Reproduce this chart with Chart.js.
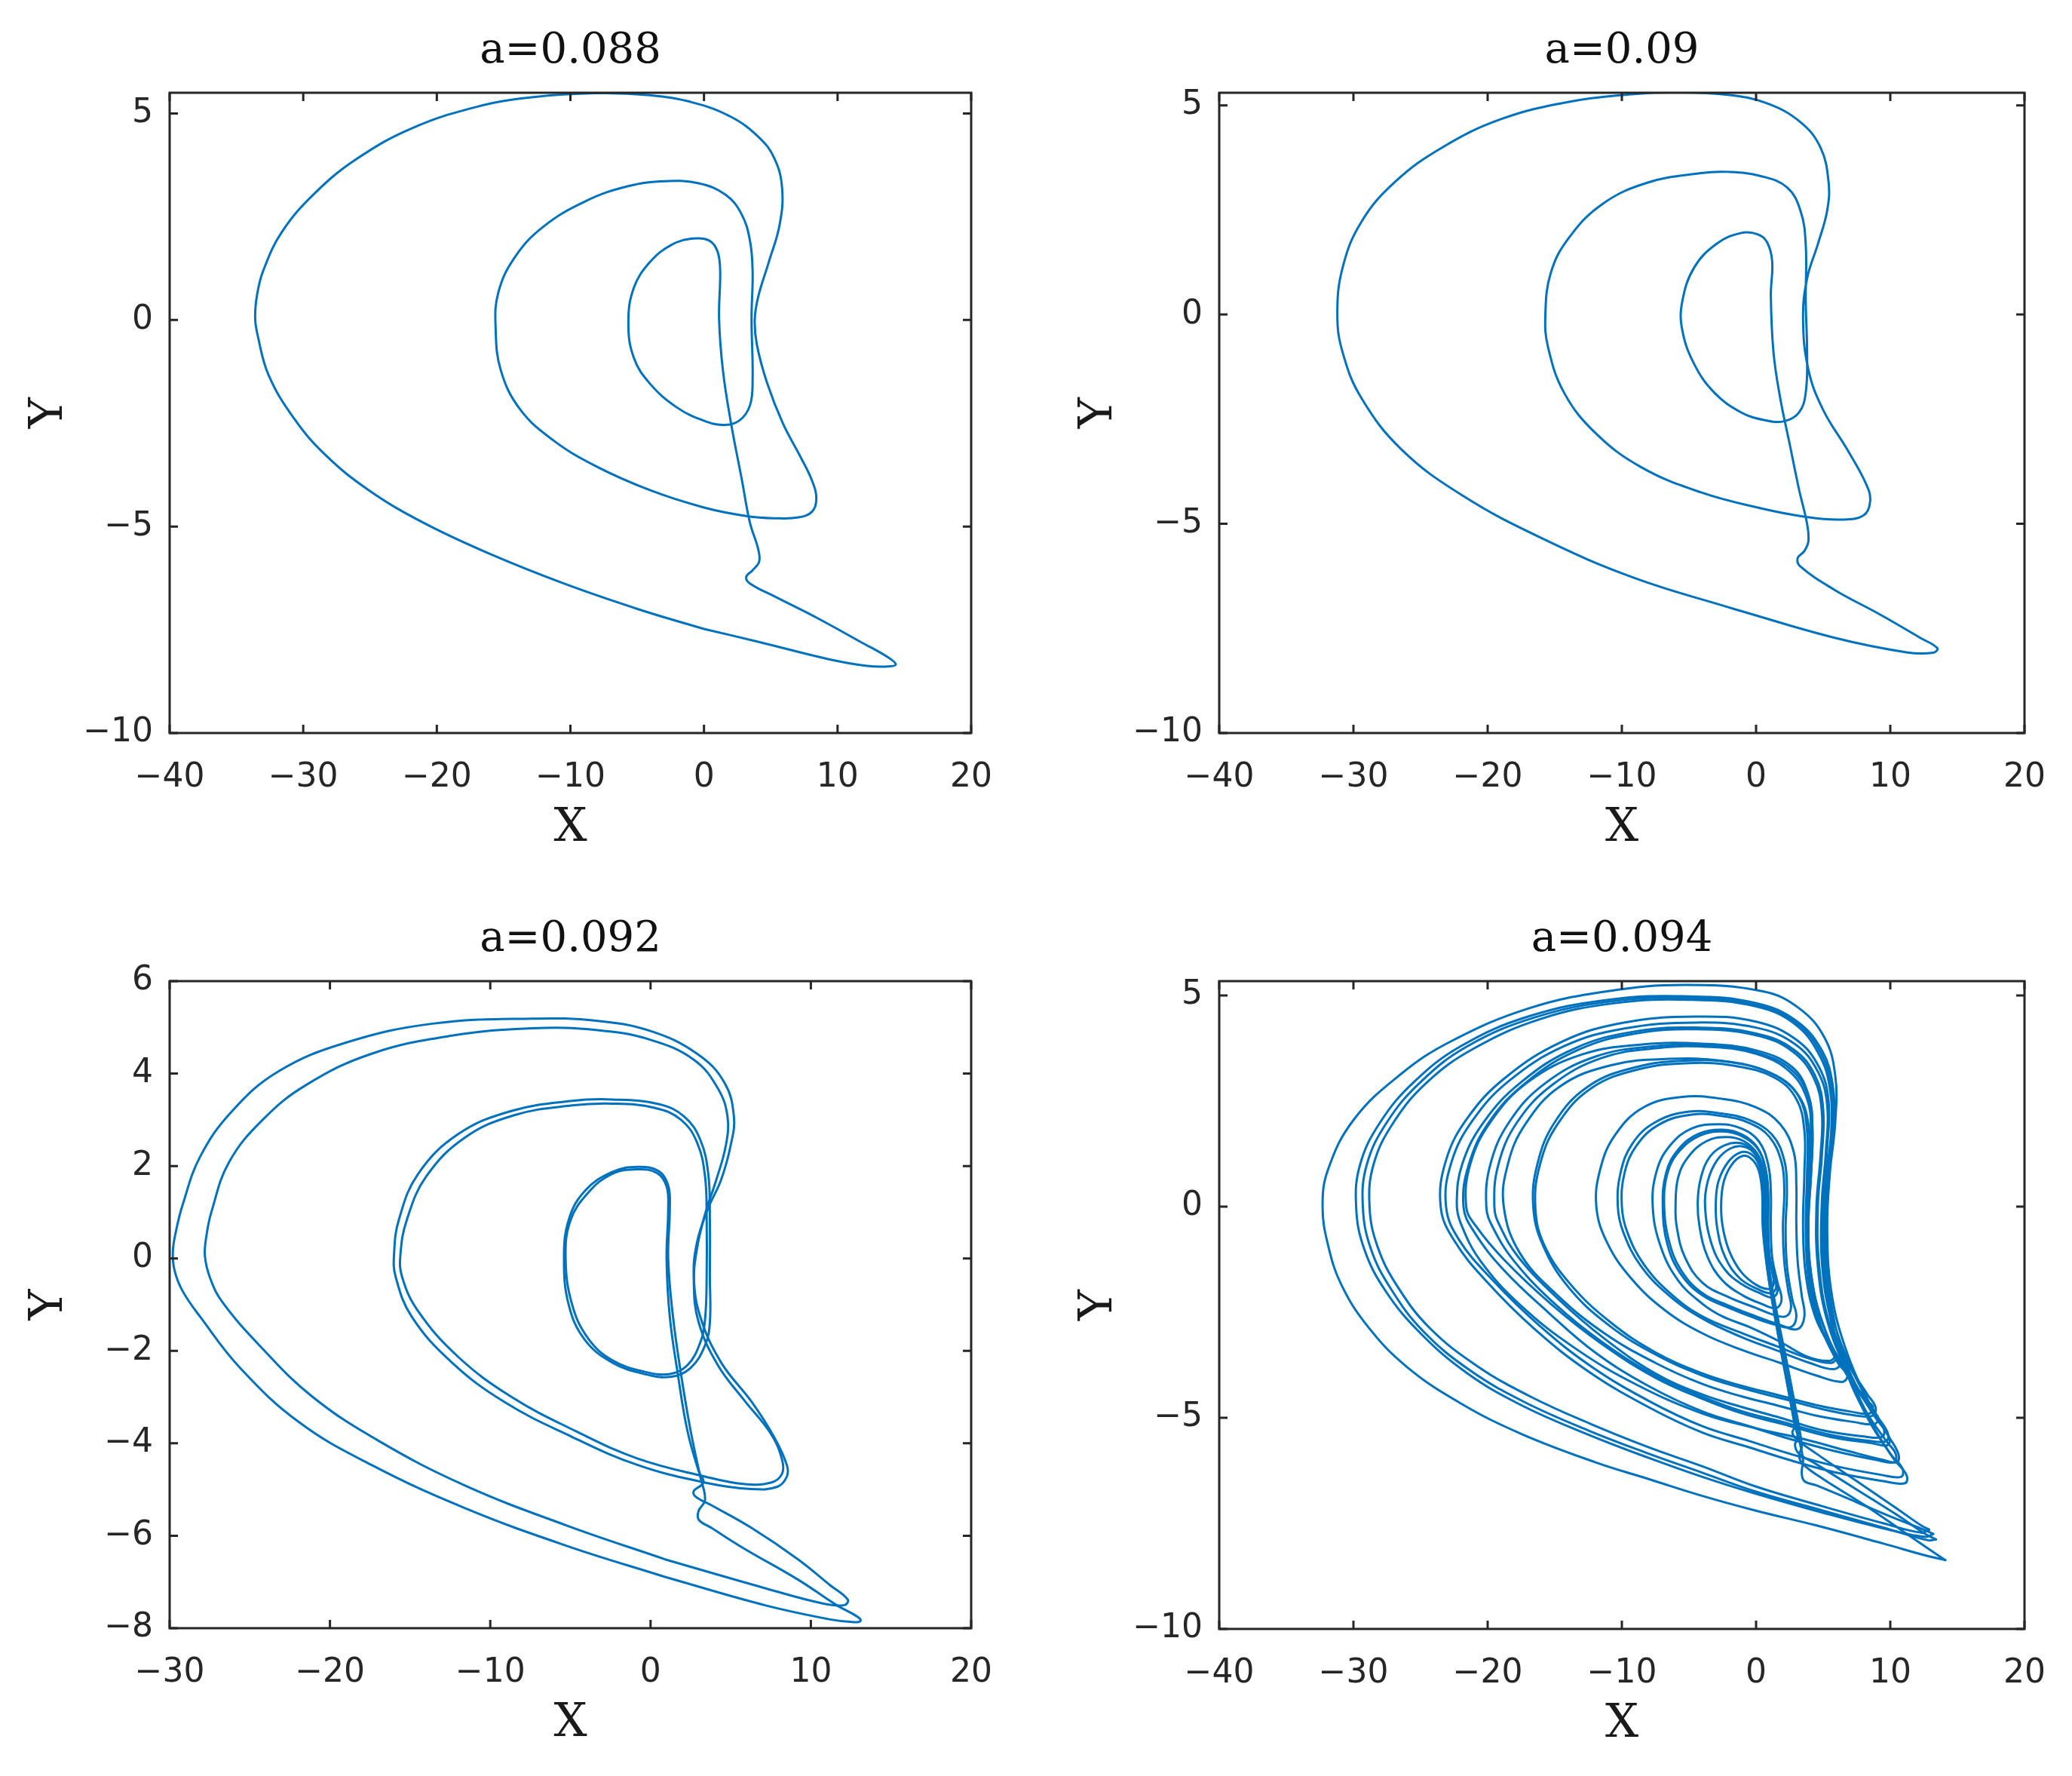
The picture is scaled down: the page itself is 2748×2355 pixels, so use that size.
<!DOCTYPE html>
<html><head><meta charset="utf-8">
<script src="https://cdn.jsdelivr.net/npm/chart.js@4.4.1/dist/chart.umd.min.js"></script>
<style>
html,body{margin:0;padding:0;background:#fff;overflow:hidden;width:2748px;height:2355px;}
canvas{position:absolute;}
</style></head><body>
<canvas id="c1"></canvas><canvas id="c2"></canvas><canvas id="c3"></canvas><canvas id="c4"></canvas>
<script>
// ---------- tick labels / titles ----------
const TITLES = ['a=0.088', 'a=0.09', 'a=0.092', 'a=0.094'];
const X_LABEL = 'X';
const Y_LABEL = 'Y';
const TICKS_X_40_20 = [-40, -30, -20, -10, 0, 10, 20];
const TICKS_X_30_20 = [-30, -20, -10, 0, 10, 20];
const TICKS_Y_10_5 = [-10, -5, 0, 5];
const TICKS_Y_8_6 = [-8, -6, -4, -2, 0, 2, 4, 6];
const RANGE_P1 = {x: [-40, 20], y: [-10, 5.5]};
const RANGE_P2 = {x: [-40, 20], y: [-10, 5.3]};
const RANGE_P3 = {x: [-30, 20], y: [-8, 6]};
const RANGE_P4 = {x: [-40, 20], y: [-10, 5.34]};

// ---------- a = 0.088 ----------
const P1_XY = [[0,-7.48],[-4.85,-7.01],[-10.5,-6.38],[-16.2,-5.64],[-21.0,-4.91],[-25.1,-4.12],[-28.3,-3.28],[-30.7,-2.38],[-32.6,-1.33],[-33.4,-0.39],[-33.6,0.05],[-33.45,0.62],[-33.0,1.19],[-31.6,2.13],[-29.1,3.08],[-25.9,3.92],[-21.8,4.65],[-17.0,5.16],[-12.9,5.39],[-8.1,5.49],[-4.05,5.44],[-0.8,5.26],[2.0,4.92],[4.05,4.44],[5.26,3.92],[5.85,3.18],[5.66,2.3],[4.85,1.4],[4.05,0.55],[3.8,0.0],[3.96,-0.6],[4.7,-1.5],[5.9,-2.5],[7.2,-3.3],[8.1,-3.9],[8.41,-4.33],[8.09,-4.64],[7.08,-4.78],[5.26,-4.8],[3.24,-4.75],[0,-4.54],[-4.05,-4.12],[-8.1,-3.54],[-11.3,-2.91],[-13.75,-2.17],[-15.2,-1.23],[-15.6,-0.18],[-15.4,0.66],[-14.2,1.5],[-12.1,2.24],[-8.9,2.87],[-5.66,3.24],[-2.83,3.36],[-0.4,3.31],[1.62,3.03],[2.83,2.55],[3.44,1.92],[3.64,1.19],[3.56,0.03],[3.64,-1.44],[3.44,-2.07],[2.63,-2.44],[1.42,-2.54],[0,-2.44],[-2.02,-2.12],[-4.05,-1.54],[-5.26,-0.91],[-5.66,-0.07],[-5.26,0.77],[-4.05,1.4],[-2.43,1.82],[-0.8,1.97],[0.4,1.92],[1.01,1.66],[1.21,1.19],[1.13,0.03],[1.42,-1.23],[2.02,-2.49],[2.83,-3.86],[3.44,-4.91],[4.05,-5.54],[4.13,-5.85],[3.64,-6.06],[3.16,-6.22],[3.44,-6.38],[5.26,-6.69],[8.5,-7.22],[11.7,-7.79],[13.75,-8.16],[14.36,-8.34],[13.75,-8.39],[12.1,-8.37],[9.3,-8.21],[4.05,-7.79],[0,-7.48]];

// ---------- a = 0.09 ----------
const P2_XY = [[-1.6,-7.04],[-9.1,-6.29],[-16,-5.34],[-21.9,-4.32],[-26.4,-3.23],[-29.4,-2.0],[-30.8,-0.91],[-31.2,0],[-30.8,1.13],[-29.4,2.22],[-26.9,3.17],[-23.4,3.99],[-19,4.67],[-14,5.08],[-9.1,5.27],[-6.1,5.31],[-2.1,5.25],[0.8,5.05],[3.3,4.6],[4.8,3.99],[5.4,3.17],[5.3,2.49],[4.6,1.68],[3.8,0.86],[3.5,-0.1],[3.9,-1.32],[5.0,-2.28],[6.8,-3.23],[8.2,-4.05],[8.5,-4.46],[8.0,-4.8],[6.3,-4.9],[3.8,-4.84],[0.35,-4.63],[-4.1,-4.25],[-8.6,-3.64],[-12,-2.82],[-14.3,-1.87],[-15.5,-0.78],[-15.7,0],[-15.3,0.99],[-14,1.81],[-11.5,2.63],[-8.1,3.15],[-4.1,3.38],[-2.1,3.41],[0.35,3.31],[2.3,3.04],[3.3,2.49],[3.7,1.68],[3.7,0.31],[3.8,-0.91],[3.7,-1.87],[3.2,-2.34],[2.1,-2.55],[0.6,-2.52],[-1.1,-2.34],[-3.1,-1.87],[-4.6,-1.19],[-5.5,-0.37],[-5.5,0.31],[-4.6,1.13],[-2.9,1.7],[-1.1,1.95],[0.1,1.92],[0.8,1.74],[1.2,1.27],[1.1,0.45],[1.3,-0.91],[1.8,-2.0],[2.5,-3.09],[3.2,-4.18],[3.8,-5.0],[3.9,-5.41],[3.6,-5.65],[3.1,-5.82],[3.3,-6.02],[5.8,-6.57],[9.3,-7.18],[12.2,-7.72],[13.5,-7.97],[13.2,-8.08],[11.2,-8.07],[5.8,-7.72],[-1.6,-7.04]];

// ---------- a = 0.092 (two circuits) ----------
const P3_A = [[0.9,-6.89],[-5.3,-6.21],[-11.6,-5.4],[-17.4,-4.47],[-21.9,-3.55],[-25.6,-2.37],[-28.1,-1.26],[-29.2,-0.7],[-29.7,-0.25],[-29.8,0.15],[-29.6,0.6],[-29.2,1.15],[-28.1,2.2],[-26.1,3.19],[-23.2,4.05],[-19,4.67],[-13.6,5.08],[-7.4,5.19],[-3.3,5.14],[0,4.92],[2.9,4.43],[4.6,3.81],[5.2,3.07],[5.0,2.45],[4.4,1.7],[3.6,1.09],[2.9,0.35],[2.7,-0.4],[3.1,-1.26],[4.4,-2.25],[6.3,-3.1],[7.7,-3.86],[8.5,-4.47],[8.5,-4.72],[7.9,-4.94],[6.3,-4.99],[3.4,-4.85],[-0.8,-4.47],[-4.9,-3.86],[-9.1,-3.11],[-12.4,-2.25],[-14.9,-1.26],[-15.9,-0.4],[-16.0,0.1],[-15.7,0.84],[-14.5,1.83],[-12,2.69],[-8.7,3.19],[-4.9,3.41],[-2.4,3.44],[0.5,3.34],[2.1,3.07],[3.1,2.57],[3.6,1.83],[3.7,0.84],[3.7,-0.4],[3.7,-1.38],[3.4,-1.88],[2.5,-2.37],[1.3,-2.56],[-0.4,-2.5],[-2.4,-2.25],[-4.1,-1.76],[-5.1,-1.01],[-5.4,0],[-5.1,0.84],[-4.1,1.46],[-2.4,1.87],[-0.8,1.98],[0.5,1.89],[1.1,1.58],[1.2,1.09],[1.1,0],[1.4,-1.26],[1.9,-2.5],[2.5,-3.73],[3.1,-4.72],[3.4,-5.22],[3.0,-5.46],[3.0,-5.65],[3.8,-5.83],[5.8,-6.27],[9.2,-6.95],[11.6,-7.5],[12.9,-7.75],[13.1,-7.84],[12.7,-7.87],[11.2,-7.81],[7.1,-7.5],[0.9,-6.89]];
const P3_B = [[0.9,-6.51],[-5.3,-5.77],[-11.6,-4.91],[-16.9,-3.96],[-21.1,-2.99],[-24.4,-1.88],[-26.7,-0.95],[-27.45,-0.45],[-27.8,0.05],[-27.7,0.5],[-27.4,1.0],[-26.3,2.08],[-24.2,3.0],[-21.5,3.75],[-17.4,4.43],[-12.4,4.82],[-7.4,4.98],[-3.3,4.94],[0,4.73],[2.7,4.3],[4.2,3.68],[4.8,3.07],[4.7,2.45],[4.1,1.7],[3.4,0.96],[2.9,0.22],[2.7,-0.52],[3.0,-1.38],[4.2,-2.31],[5.8,-3.05],[7.5,-3.79],[8.2,-4.35],[8.2,-4.66],[7.5,-4.85],[5.8,-4.88],[3.4,-4.72],[-0.8,-4.33],[-4.7,-3.73],[-8.7,-2.99],[-12,-2.13],[-14.5,-1.14],[-15.5,-0.4],[-15.6,0.1],[-15.2,0.84],[-14.0,1.77],[-11.6,2.61],[-8.5,3.1],[-4.9,3.31],[-2.4,3.35],[0.25,3.26],[1.9,3.0],[2.9,2.51],[3.4,1.77],[3.5,0.84],[3.5,-0.4],[3.4,-1.32],[3.1,-1.82],[2.3,-2.31],[1.2,-2.5],[-0.4,-2.45],[-2.4,-2.2],[-3.9,-1.73],[-4.9,-0.99],[-5.3,0],[-5.0,0.82],[-3.9,1.42],[-2.4,1.83],[-0.8,1.93],[0.4,1.85],[1.0,1.56],[1.1,1.06],[1.0,0],[1.2,-1.26],[1.7,-2.5],[2.3,-3.73],[3.0,-4.6],[3.3,-4.85],[2.7,-5.03],[2.8,-5.15],[3.8,-5.34],[6.3,-5.83],[9.2,-6.51],[11.2,-7.07],[12.3,-7.38],[12.1,-7.5],[10.8,-7.47],[7.1,-7.13],[0.9,-6.51]];

// ---------- a = 0.094 (chaotic, four traced stretches of the trajectory) ----------
const P4_A = [[14.1,-8.37],[12.5,-8.25],[9.5,-7.98],[4.5,-7.55],[0,-7.2],[-4,-6.85],[-8,-6.45],[-12,-6.05],[-17.5,-5.38],[-22,-4.66],[-26,-3.8],[-28.9,-2.85],[-30.9,-1.85],[-31.9,-0.9],[-32.3,0],
 [-31.9,0.87],[-30,2.05],[-26.5,3.13],[-22.7,3.92],[-16.9,4.7],[-11.1,5.1],[-5.3,5.25],[0.5,5.1],[3.2,4.7],[5.1,4.0],[5.9,3.1],
 [5.9,2.0],[5.5,0.8],[5.3,-0.5],[5.6,-2.0],[6.6,-3.3],[8.2,-4.5],[9.8,-5.4],[10.6,-5.85],[10.5,-6.05],
 [9.5,-6.0],[7,-5.8],[3.5,-5.5],[0,-5.25],[-4,-4.9],[-9,-4.2],[-13.5,-3.35],[-17.5,-2.35],[-20.5,-1.3],[-22,-0.4],[-22.3,0.1],
 [-21.9,1.0],[-20.3,2.0],[-17.5,2.95],[-13.5,3.75],[-9,4.15],[-4.5,4.24],[0,4.1],[2.8,3.72],[4.4,3.1],[5.0,2.3],
 [4.9,1.2],[4.6,0],[4.7,-1.4],[5.4,-2.7],[6.8,-3.7],[8.3,-4.45],[8.9,-4.75],[8.7,-4.95],
 [7.5,-4.95],[5,-4.8],[2,-4.55],[-1,-4.3],[-4,-4.0],[-7.5,-3.5],[-11,-2.8],[-14,-1.9],[-15.9,-0.9],[-16.6,0],
 [-16.3,1.0],[-15,2.0],[-12.5,2.85],[-9,3.3],[-5,3.46],[-1.5,3.4],[1.5,3.1],[3.2,2.6],[3.8,1.8],
 [3.8,0.8],[3.7,-0.5],[3.9,-1.7],[4.6,-2.7],[5.8,-3.4],[6.3,-3.7],[5.8,-3.85],
 [4,-3.7],[1.5,-3.4],[-1,-3.1],[-4,-2.65],[-6.5,-2.1],[-8.6,-1.4],[-9.9,-0.6],[-10.3,0],
 [-10.1,0.8],[-9.2,1.5],[-7.5,2.0],[-5,2.25],[-2.5,2.2],[-0.5,2.05],[1.2,1.7],[2.1,1.1],[2.3,0.4],
 [2.2,-0.5],[2.3,-1.4],[2.7,-2.2],[3.0,-2.6],[2.6,-2.85],
 [1.5,-2.8],[0,-2.65],[-2,-2.4],[-4,-2.1],[-5.6,-1.6],[-6.6,-0.9],[-6.95,0],
 [-6.7,0.8],[-5.8,1.35],[-4.3,1.72],[-2.5,1.82],[-1,1.7],[0.1,1.4],[0.7,0.9],[0.9,0.3],
 [0.9,-0.5],[1.0,-1.2],[1.4,-1.7],[1.6,-2.0],[1.2,-2.15],
 [0.3,-2.05],[-1,-1.85],[-2.3,-1.5],[-3.3,-0.9],[-3.8,0],
 [-3.6,0.6],[-2.9,1.1],[-1.9,1.38],[-0.9,1.42],[-0.1,1.25],[0.4,0.9],[0.6,0.3],
 [0.6,-0.6],[0.9,-1.5],[1.5,-2.6],[2.1,-3.6],[2.7,-4.6],[3.2,-5.5],[3.5,-6.0],[3.4,-6.3],[3.6,-6.5],[4.5,-6.6],[7.5,-7.0],[10.5,-7.4],[12.5,-7.65],[13.2,-7.75]];
const P4_B = [[13.2,-7.75],[12.6,-7.82],[9.5,-7.62],[5,-7.25],[0,-6.8],[-4,-6.4],[-8,-5.95],[-12.5,-5.4],[-17.5,-4.7],[-21.5,-3.95],[-25,-3.0],[-27.6,-2.0],[-29.2,-1.0],[-29.8,0],
 [-29.5,1.0],[-28,2.0],[-25.5,2.95],[-22,3.8],[-17,4.5],[-11,4.9],[-5,4.98],[0,4.82],[3,4.4],[4.9,3.7],[5.7,2.9],
 [5.8,1.9],[5.4,0.7],[5.2,-0.6],[5.5,-2.1],[6.6,-3.6],[8.4,-5.0],[10.2,-5.95],[11.2,-6.35],[11.1,-6.55],
 [9.5,-6.5],[6,-6.3],[2.5,-6.0],[-0.5,-5.7],[-4,-5.35],[-8,-4.75],[-12.5,-3.9],[-16.5,-2.9],[-20,-1.8],[-22.5,-0.8],[-23.5,0],
 [-23.1,1.1],[-21.5,2.1],[-18.7,3.05],[-14.5,3.9],[-10,4.35],[-4.5,4.5],[0,4.38],[3,3.95],[4.7,3.3],[5.4,2.5],
 [5.3,1.4],[5.0,0.2],[5.0,-1.2],[5.7,-2.6],[7.2,-3.9],[8.9,-4.9],[9.8,-5.35],[9.7,-5.55],
 [8.5,-5.55],[5.5,-5.4],[2,-5.1],[-1,-4.85],[-4,-4.5],[-7.5,-4.0],[-11.5,-3.2],[-15,-2.3],[-18,-1.3],[-19.6,-0.5],[-20.1,0],
 [-19.8,1.0],[-18.4,2.0],[-15.8,2.9],[-12,3.55],[-7.5,3.8],[-3.5,3.82],[0,3.65],[2.6,3.25],[3.9,2.6],[4.2,1.8],
 [4.1,0.8],[3.9,-0.4],[4.1,-1.6],[5.0,-2.8],[6.7,-3.9],[8.3,-4.6],[8.7,-4.75],[8.4,-4.9],
 [7,-4.85],[4.5,-4.7],[1.5,-4.45],[-1,-4.25],[-4,-3.95],[-7.5,-3.45],[-10.8,-2.75],[-13.8,-1.85],[-15.8,-0.9],[-16.45,0],
 [-16.1,1.0],[-14.8,1.95],[-12.3,2.8],[-8.8,3.25],[-5,3.4],[-1.5,3.33],[1.4,3.05],[3.0,2.55],[3.6,1.8],
 [3.6,0.8],[3.5,-0.5],[3.7,-1.6],[4.4,-2.6],[5.5,-3.3],[6.0,-3.55],[5.6,-3.7],
 [4,-3.6],[1.5,-3.3],[-1,-3.0],[-4,-2.6],[-6.4,-2.05],[-8.4,-1.35],[-9.6,-0.6],[-10.0,0],
 [-9.8,0.8],[-8.9,1.45],[-7.2,1.95],[-4.8,2.18],[-2.4,2.14],[-0.5,1.98],[1.0,1.65],[1.9,1.05],[2.1,0.4],
 [2.0,-0.5],[2.1,-1.3],[2.4,-2.0],[2.6,-2.4],[2.2,-2.6],
 [1.2,-2.55],[0,-2.4],[-2,-2.15],[-4,-1.8],[-5.3,-1.2],[-5.9,-0.5],[-6.0,0],
 [-5.8,0.7],[-5.0,1.2],[-3.7,1.55],[-2.2,1.65],[-0.9,1.55],[0.1,1.25],[0.6,0.8],[0.8,0.2],
 [0.8,-0.5],[0.9,-1.1],[1.2,-1.55],[1.3,-1.85],[0.9,-1.95],
 [0,-1.85],[-1.1,-1.55],[-2.0,-1.05],[-2.5,-0.45],[-2.6,0.1],
 [-2.4,0.6],[-1.8,1.0],[-1.0,1.2],[-0.3,1.12],[0.2,0.85],[0.45,0.35],
 [0.5,-0.5],[0.8,-1.4],[1.3,-2.4],[1.9,-3.5],[2.5,-4.5],[2.9,-5.2],[3.1,-5.45],[2.9,-5.65],[3.2,-5.85],[4.5,-6.1],[7.5,-6.7],[10.5,-7.3],[12.6,-7.75],[13.4,-7.88]];
const P4_C = [[13.4,-7.88],[12.8,-7.9],[9.5,-7.6],[5,-7.2],[0,-6.75],[-4,-6.3],[-8,-5.85],[-12.5,-5.3],[-17.3,-4.62],[-21.3,-3.88],[-24.8,-2.95],[-27.2,-1.95],[-28.7,-1.0],[-29.3,0],
 [-29.0,1.0],[-27.5,2.0],[-25,2.95],[-21.5,3.8],[-16.5,4.48],[-10.8,4.86],[-5,4.94],[0,4.78],[3,4.35],[4.8,3.65],[5.6,2.85],
 [5.7,1.8],[5.3,0.6],[5.1,-0.7],[5.4,-2.2],[6.5,-3.7],[8.3,-5.0],[10.0,-5.85],[10.9,-6.2],[10.8,-6.4],
 [9.3,-6.35],[6,-6.15],[2.5,-5.85],[-0.5,-5.55],[-4,-5.2],[-8,-4.6],[-12.3,-3.78],[-16.2,-2.8],[-19.6,-1.75],[-22.1,-0.8],[-23.1,0],
 [-22.7,1.05],[-21.1,2.05],[-18.4,2.98],[-14.3,3.8],[-9.8,4.22],[-4.5,4.36],[0,4.24],[2.9,3.85],[4.6,3.2],[5.3,2.4],
 [5.2,1.3],[4.9,0.1],[4.9,-1.3],[5.6,-2.7],[7.1,-4.0],[8.8,-4.95],[9.9,-5.45],[9.8,-5.65],
 [8.6,-5.6],[5.5,-5.45],[2,-5.15],[-1,-4.9],[-4,-4.55],[-7.5,-4.05],[-11.5,-3.25],[-15.3,-2.3],[-18.8,-1.25],[-20.9,-0.45],[-21.6,0],
 [-21.3,1.0],[-19.8,2.0],[-17,2.95],[-13,3.6],[-8.5,3.84],[-4,3.86],[0,3.7],[2.7,3.3],[3.9,2.65],[4.2,1.85],
 [4.1,0.8],[3.9,-0.4],[4.1,-1.6],[5.0,-2.8],[6.7,-3.95],[8.6,-4.8],[9.1,-5.0],[8.8,-5.15],
 [7.3,-5.1],[4.5,-4.95],[1.5,-4.7],[-1,-4.5],[-4,-4.2],[-7.5,-3.7],[-11.3,-3.0],[-14.8,-2.1],[-17.6,-1.1],[-18.8,0],
 [-18.5,1.0],[-17.2,1.95],[-14.6,2.85],[-10.8,3.35],[-6.5,3.5],[-2.5,3.45],[0.8,3.2],[3.0,2.7],[3.9,1.95],
 [3.9,0.9],[3.8,-0.4],[4.0,-1.6],[4.8,-2.8],[6.1,-3.7],[6.8,-4.0],[6.4,-4.15],
 [4.5,-4.0],[1.8,-3.7],[-1,-3.4],[-4,-3.0],[-6.8,-2.45],[-9.3,-1.7],[-11.1,-0.85],[-11.9,0],
 [-11.6,0.9],[-10.5,1.7],[-8.4,2.35],[-5.5,2.6],[-2.5,2.55],[0,2.35],[1.8,1.95],[2.8,1.3],[3.0,0.5],
 [3.0,-0.4],[3.1,-1.3],[3.4,-2.1],[3.6,-2.6],[3.1,-2.9],
 [1.8,-2.8],[0,-2.6],[-2,-2.35],[-4,-2.05],[-5.6,-1.5],[-6.5,-0.8],[-6.85,0],
 [-6.6,0.8],[-5.7,1.32],[-4.2,1.68],[-2.5,1.78],[-1,1.66],[0.1,1.38],[0.7,0.9],[0.9,0.3],
 [0.9,-0.5],[1.0,-1.15],[1.3,-1.6],[1.5,-1.9],[1.1,-2.05],
 [0.1,-1.95],[-1.2,-1.7],[-2.3,-1.2],[-2.9,-0.5],[-3.0,0.1],
 [-2.8,0.6],[-2.1,1.05],[-1.2,1.28],[-0.4,1.25],[0.2,1.0],[0.5,0.5],
 [0.55,-0.5],[0.85,-1.5],[1.4,-2.6],[2.0,-3.6],[2.5,-4.5],[2.8,-5.0],[2.9,-5.2],[2.7,-5.35],[3.0,-5.5],[4.5,-5.85],[7.5,-6.5],[10.5,-7.15],[12.3,-7.55],[12.9,-7.65]];
const P4_D = [[12.9,-7.65],[12.3,-7.72],[9.5,-7.5],[5,-7.1],[0,-6.63],[-4,-6.15],[-8,-5.7],[-12.3,-5.15],[-16.8,-4.5],[-20.8,-3.77],[-24.3,-2.88],[-26.7,-1.9],[-28.2,-0.95],[-28.8,0],
 [-28.5,1.0],[-27,2.0],[-24.5,2.95],[-21,3.75],[-16,4.45],[-10.5,4.82],[-5,4.9],[0,4.74],[2.9,4.32],[4.7,3.6],[5.5,2.8],
 [5.6,1.8],[5.2,0.6],[5.0,-0.7],[5.3,-2.2],[6.4,-3.6],[8.1,-4.8],[9.7,-5.55],[10.4,-5.85],[10.3,-6.05],
 [9,-6.0],[6,-5.8],[2.5,-5.5],[-0.5,-5.2],[-4,-4.85],[-8,-4.25],[-12,-3.45],[-15.5,-2.5],[-18.8,-1.5],[-21,-0.6],[-21.8,0],
 [-21.4,1.0],[-19.9,2.0],[-17.1,2.95],[-13.2,3.72],[-9,4.1],[-4.5,4.2],[0,4.06],[2.7,3.68],[4.3,3.05],[4.9,2.25],
 [4.8,1.2],[4.5,0],[4.6,-1.4],[5.3,-2.7],[6.8,-3.9],[8.6,-4.85],[9.5,-5.25],[9.4,-5.45],
 [8.2,-5.45],[5,-5.3],[1.8,-5.0],[-1,-4.75],[-4,-4.45],[-7.5,-3.95],[-11.2,-3.15],[-14.7,-2.2],[-17.7,-1.2],[-19.1,-0.45],[-19.5,0],
 [-19.2,1.0],[-17.8,2.0],[-15.2,2.88],[-11.5,3.52],[-7.2,3.76],[-3.3,3.78],[0,3.62],[2.5,3.2],[3.8,2.55],[4.1,1.75],
 [4.0,0.8],[3.8,-0.4],[3.9,-1.6],[4.6,-2.7],[5.5,-3.3],[5.9,-3.5],[5.5,-3.65],
 [3.8,-3.55],[1.8,-3.2],[-0.5,-2.85],[-2.5,-2.6],[-4,-2.3],[-5.8,-1.75],[-7.1,-0.95],[-7.7,0],
 [-7.4,0.85],[-6.4,1.45],[-4.8,1.85],[-2.8,1.95],[-1.1,1.85],[0.2,1.55],[0.9,1.0],[1.1,0.35],
 [1.1,-0.5],[1.2,-1.2],[1.6,-1.8],[1.9,-2.2],[1.5,-2.4],
 [0.4,-2.3],[-1,-2.1],[-2.5,-1.75],[-3.6,-1.2],[-4.2,-0.5],[-4.35,0.1],
 [-4.1,0.7],[-3.4,1.2],[-2.3,1.46],[-1.1,1.5],[-0.2,1.32],[0.4,0.95],[0.7,0.35],
 [0.7,-0.5],[1.0,-1.5],[1.6,-2.6],[2.3,-3.7],[2.9,-4.7],[3.3,-5.4],[3.4,-5.7],[3.2,-5.9],[3.5,-6.1],[5,-6.45],[8,-7.05],[11,-7.7],[13.3,-8.2],[14.1,-8.37]];

// ---------- layout (page pixels) ----------
const YAXIS_W = 225, TITLE_H = 123, XAXIS_H = 190, RIGHT_PAD = 60;
const PANELS = [
  {id:'c1', plot:{l:225, r:1289, t:123, b:972}, title:TITLES[0], series:[P1_XY], range:RANGE_P1, xt:TICKS_X_40_20, yt:TICKS_Y_10_5},
  {id:'c2', plot:{l:1617, r:2686, t:123, b:972}, title:TITLES[1], series:[P2_XY], range:RANGE_P2, xt:TICKS_X_40_20, yt:TICKS_Y_10_5},
  {id:'c3', plot:{l:225, r:1289, t:1301, b:2159}, title:TITLES[2], series:[P3_A, P3_B], range:RANGE_P3, xt:TICKS_X_30_20, yt:TICKS_Y_8_6},
  {id:'c4', plot:{l:1617, r:2686, t:1301, b:2160}, title:TITLES[3], series:[P4_A, P4_B, P4_C, P4_D], range:RANGE_P4, xt:TICKS_X_40_20, yt:TICKS_Y_10_5}
];

const LINE_COLOR = '#0072BD';
const AXIS_COLOR = '#262626';
const fmt = v => (v < 0 ? '\u2212' + Math.abs(v) : String(v));

const boxPlugin = {
  id: 'matlabBox',
  afterDraw(chart) {
    const {ctx, chartArea: a, scales: {x, y}} = chart;
    const TL = 11;
    ctx.save();
    ctx.strokeStyle = AXIS_COLOR;
    ctx.lineWidth = 3;
    ctx.beginPath();
    x.ticks.forEach(t => {
      const p = x.getPixelForValue(t.value);
      ctx.moveTo(p, a.bottom); ctx.lineTo(p, a.bottom - TL);
      ctx.moveTo(p, a.top); ctx.lineTo(p, a.top + TL);
    });
    y.ticks.forEach(t => {
      const p = y.getPixelForValue(t.value);
      ctx.moveTo(a.left, p); ctx.lineTo(a.left + TL, p);
      ctx.moveTo(a.right, p); ctx.lineTo(a.right - TL, p);
    });
    ctx.stroke();
    ctx.strokeRect(a.left, a.top, a.right - a.left, a.bottom - a.top);
    ctx.restore();
  }
};

PANELS.forEach(P => {
  const cv = document.getElementById(P.id);
  const w = (P.plot.r - P.plot.l) + YAXIS_W + RIGHT_PAD;
  const h = (P.plot.b - P.plot.t) + TITLE_H + XAXIS_H;
  cv.width = w; cv.height = h;
  cv.style.left = (P.plot.l - YAXIS_W) + 'px';
  cv.style.top = (P.plot.t - TITLE_H) + 'px';
  cv.style.width = w + 'px'; cv.style.height = h + 'px';
  new Chart(cv, {
    type: 'scatter',
    data: {
      datasets: P.series.map(s => ({
        data: s.map(([x, y]) => ({x, y})),
        showLine: true, pointRadius: 0, pointHoverRadius: 0,
        borderColor: LINE_COLOR, borderWidth: 3, tension: 0.4, fill: false,
        borderCapStyle: 'round', borderJoinStyle: 'round'
      }))
    },
    options: {
      responsive: false, animation: false, devicePixelRatio: 1, events: [],
      layout: {padding: {left: 0, right: RIGHT_PAD, top: 0, bottom: 0}},
      plugins: {
        legend: {display: false}, tooltip: {enabled: false},
        title: {display: true, text: P.title, fullSize: false, color: '#111',
          font: {family: 'DejaVu Serif', size: 56, weight: 'normal', lineHeight: 1.2},
          padding: {top: 34.4, bottom: 21.4}}
      },
      scales: {
        x: {
          type: 'linear', position: 'bottom', min: P.range.x[0], max: P.range.x[1],
          afterBuildTicks: s => { s.ticks = P.xt.map(v => ({value: v})); },
          afterFit: s => { s.height = XAXIS_H; },
          grid: {display: false, drawTicks: false}, border: {display: false},
          ticks: {autoSkip: false, maxRotation: 0, minRotation: 0, padding: 33, color: AXIS_COLOR,
            font: {family: 'DejaVu Sans', size: 44}, callback: v => fmt(v)},
          title: {display: true, text: X_LABEL, color: '#1a1a1a',
            font: {family: 'DejaVu Serif', size: 62, lineHeight: 1.2}, padding: {top: 0, bottom: 25.8}}
        },
        y: {
          type: 'linear', position: 'left', min: P.range.y[0], max: P.range.y[1],
          afterBuildTicks: s => { s.ticks = P.yt.map(v => ({value: v})); },
          afterFit: s => { s.width = YAXIS_W; },
          grid: {display: false, drawTicks: false}, border: {display: false},
          ticks: {autoSkip: false, padding: 22, color: AXIS_COLOR,
            font: {family: 'DejaVu Sans', size: 44}, callback: v => fmt(v)},
          title: {display: true, text: Y_LABEL, color: '#1a1a1a',
            font: {family: 'DejaVu Serif', size: 62, lineHeight: 1.2}, padding: {top: 28.8, bottom: 0}}
        }
      }
    },
    plugins: [boxPlugin]
  });
});
</script>
</body></html>
